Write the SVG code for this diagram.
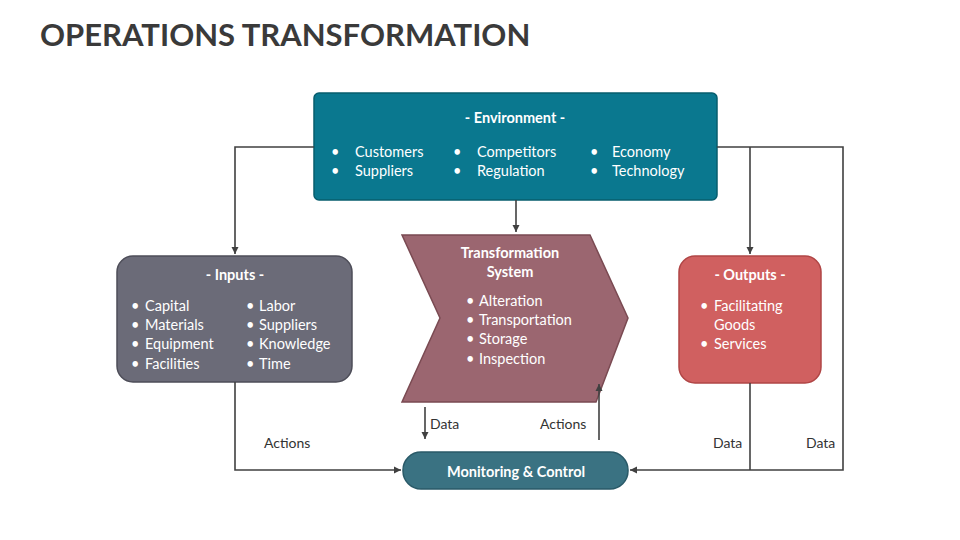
<svg xmlns="http://www.w3.org/2000/svg" width="960" height="540" viewBox="0 0 960 540">
<style>
text{font-family:Lato,"Open Sans","Liberation Sans",sans-serif}
.w{fill:#fff;font-size:14.5px}
.h{fill:#fff;font-size:14.5px;font-weight:bold}
.l{fill:#333;font-size:14px}
.c{stroke:#404040;stroke-width:1.6;fill:none}
</style>
<defs><marker id="a" markerWidth="8" markerHeight="8" refX="7" refY="4" orient="auto" markerUnits="userSpaceOnUse"><path d="M0,0.5L7,4L0,7.5z" fill="#404040"/></marker></defs>
<rect width="960" height="540" fill="#fff"/>
<text x="40" y="46" font-size="31" font-weight="bold" fill="#3a3a3a">OPERATIONS TRANSFORMATION</text>
<g id="environment">
<rect x="314" y="93" width="403" height="107" rx="5" fill="#0a788f" stroke="#075d6e" stroke-width="1.5"/>
<text class="h" x="515" y="123" text-anchor="middle">- Environment -</text>
<text class="w" x="331" y="157">•</text><text class="w" x="355" y="157">Customers</text>
<text class="w" x="331" y="176">•</text><text class="w" x="355" y="176">Suppliers</text>
<text class="w" x="453" y="157">•</text><text class="w" x="477" y="157">Competitors</text>
<text class="w" x="453" y="176">•</text><text class="w" x="477" y="176">Regulation</text>
<text class="w" x="590" y="157">•</text><text class="w" x="612" y="157">Economy</text>
<text class="w" x="590" y="176">•</text><text class="w" x="612" y="176">Technology</text>
</g>
<g id="inputs">
<rect x="117" y="256" width="235" height="126" rx="16" fill="#6b6b78" stroke="#4d4d58" stroke-width="1.5"/>
<text class="h" x="235" y="280" text-anchor="middle">- Inputs -</text>
<text class="w" x="131" y="311">•</text><text class="w" x="145" y="311">Capital</text>
<text class="w" x="131" y="330">•</text><text class="w" x="145" y="330">Materials</text>
<text class="w" x="131" y="349">•</text><text class="w" x="145" y="349">Equipment</text>
<text class="w" x="131" y="369">•</text><text class="w" x="145" y="369">Facilities</text>
<text class="w" x="246" y="311">•</text><text class="w" x="259" y="311">Labor</text>
<text class="w" x="246" y="330">•</text><text class="w" x="259" y="330">Suppliers</text>
<text class="w" x="246" y="349">•</text><text class="w" x="259" y="349">Knowledge</text>
<text class="w" x="246" y="369">•</text><text class="w" x="259" y="369">Time</text>
</g>
<g id="transformation">
<path d="M402,235H590L628,318L596,402H402L440,318Z" fill="#9b6670" stroke="#7a4a52" stroke-width="1.5"/>
<text class="h" x="510" y="258" text-anchor="middle">Transformation</text>
<text class="h" x="510" y="277" text-anchor="middle">System</text>
<text class="w" x="466" y="306">•</text><text class="w" x="479" y="306">Alteration</text>
<text class="w" x="466" y="325">•</text><text class="w" x="479" y="325">Transportation</text>
<text class="w" x="466" y="344">•</text><text class="w" x="479" y="344">Storage</text>
<text class="w" x="466" y="364">•</text><text class="w" x="479" y="364">Inspection</text>
</g>
<g id="outputs">
<rect x="679" y="256" width="142" height="127" rx="16" fill="#d06060" stroke="#b04545" stroke-width="1.5"/>
<text class="h" x="750" y="280" text-anchor="middle">- Outputs -</text>
<text class="w" x="700" y="311">•</text><text class="w" x="714" y="311">Facilitating</text>
<text class="w" x="714" y="330">Goods</text>
<text class="w" x="700" y="349">•</text><text class="w" x="714" y="349">Services</text>
</g>
<g id="monitoring">
<rect x="403" y="452" width="225" height="37" rx="18" fill="#3a7282" stroke="#2a5a68" stroke-width="1.5"/>
<text class="h" x="516" y="477" text-anchor="middle" font-size="16.5">Monitoring &amp; Control</text>
</g>
<g id="connectors">
<path class="c" d="M314,147H235V254" marker-end="url(#a)"/>
<path class="c" d="M717,147H843V470H630" marker-end="url(#a)"/>
<path class="c" d="M750,147V254" marker-end="url(#a)"/>
<path class="c" d="M750,383V470"/>
<path class="c" d="M516,200V232" marker-end="url(#a)"/>
<path class="c" d="M235,382V470H401" marker-end="url(#a)"/>
<path class="c" d="M425,407V439" marker-end="url(#a)"/>
<path class="c" d="M599,440V384" marker-end="url(#a)"/>
<text class="l" x="264" y="448">Actions</text>
<text class="l" x="430" y="429">Data</text>
<text class="l" x="540" y="429">Actions</text>
<text class="l" x="713" y="448">Data</text>
<text class="l" x="806" y="448">Data</text>
</g>
</svg>
